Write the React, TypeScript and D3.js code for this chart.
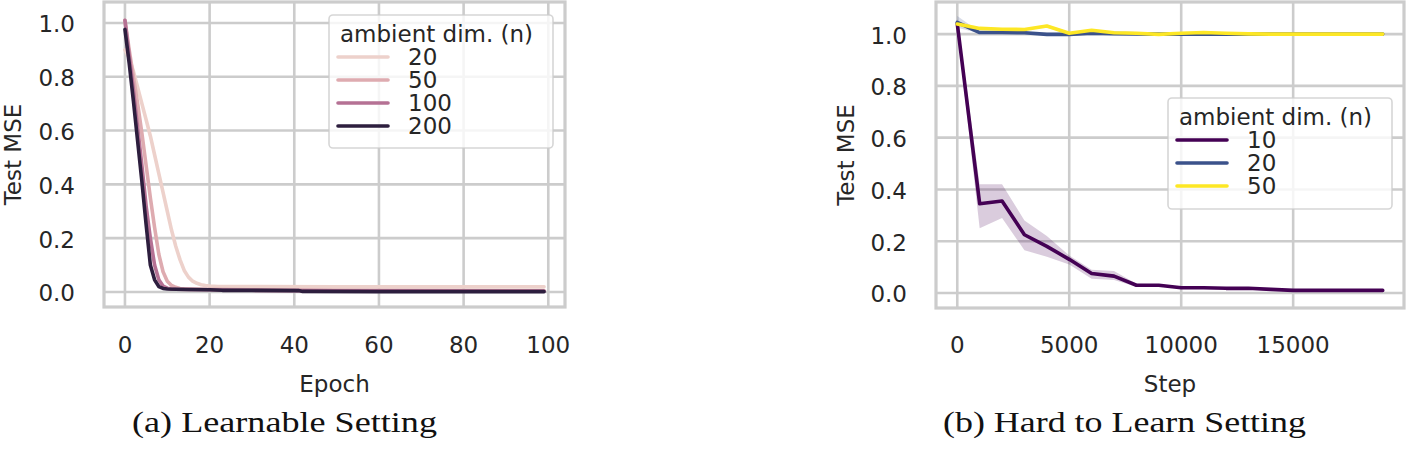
import * as d3 from "d3";

// ---- (a) learnable setting: test MSE per epoch ----
const epochsA20 = [0, 1, 2, 3, 4, 5, 6, 7, 8, 9, 10, 11, 12, 13, 14, 15, 16, 17, 18, 19, 20, 21, 22, 30, 50, 70, 99];
const mseA20 = [0.9, 0.87, 0.82, 0.76, 0.7, 0.64, 0.58, 0.51, 0.44, 0.37, 0.3, 0.23, 0.17, 0.12, 0.08, 0.055, 0.04, 0.032, 0.027, 0.024, 0.022, 0.021, 0.02, 0.02, 0.019, 0.019, 0.019];

const epochsA50 = [0, 1, 2, 3, 4, 5, 6, 7, 8, 9, 10, 11, 12, 13, 14, 16, 20, 30, 50, 99];
const mseA50 = [1.01, 0.9, 0.8, 0.7, 0.59, 0.47, 0.35, 0.24, 0.14, 0.075, 0.04, 0.024, 0.017, 0.013, 0.012, 0.011, 0.01, 0.008, 0.006, 0.004];

const epochsA100 = [0, 1, 2, 3, 4, 5, 6, 7, 8, 9, 10, 11, 12, 15, 20, 30, 50, 99];
const mseA100 = [1.01, 0.88, 0.75, 0.61, 0.47, 0.32, 0.2, 0.1, 0.045, 0.022, 0.014, 0.011, 0.01, 0.009, 0.008, 0.006, 0.004, 0.003];

const epochsA200 = [0, 1, 2, 3, 4, 5, 6, 7, 8, 9, 10, 12, 15, 20, 23, 30, 41, 42, 60, 99];
const mseA200 = [0.976, 0.85, 0.71, 0.56, 0.41, 0.25, 0.1, 0.045, 0.02, 0.013, 0.011, 0.01, 0.009, 0.008, 0.006, 0.006, 0.005, 0.002, 0.001, 0.001];

const dimsA = ["20", "50", "100", "200"];
const coloursA = ["#edd1cb", "#deabb0", "#b57194", "#2d1e3e"];

// ---- (b) hard to learn setting: test MSE per step ----
const stepsB = [0, 1000, 2000, 3000, 4000, 5000, 6000, 7000, 8000, 9000, 10000, 11000, 12000, 13000, 14000, 15000, 16000, 17000, 18000, 19000];
const mseB10 = [1.04, 0.345, 0.355, 0.225, 0.18, 0.13, 0.075, 0.065, 0.03, 0.03, 0.02, 0.02, 0.018, 0.018, 0.014, 0.01, 0.01, 0.01, 0.01, 0.01];
const lowB10 = [1.02, 0.25, 0.29, 0.165, 0.14, 0.11, 0.055, 0.05, 0.024, 0.026, 0.017, 0.017, 0.015, 0.015, 0.011, 0.008, 0.008, 0.008, 0.008, 0.008];
const highB10 = [1.06, 0.42, 0.42, 0.28, 0.22, 0.145, 0.09, 0.085, 0.036, 0.034, 0.023, 0.023, 0.021, 0.021, 0.017, 0.012, 0.012, 0.012, 0.012, 0.012];
const mseB20 = [1.045, 1.006, 1.006, 1.005, 0.999, 0.999, 1.003, 1.002, 1.001, 1.0, 1.0, 1.0, 1.0, 1.0, 1.0, 1.0, 1.0, 1.0, 1.0, 1.0];
const lowB20 = [1.025, 1.003, 1.003, 1.002, 0.997, 0.997, 1.001, 1.0, 0.999, 0.998, 0.998, 0.998, 0.998, 0.998, 0.998, 0.998, 0.998, 0.998, 0.998, 0.998];
const highB20 = [1.07, 1.009, 1.009, 1.008, 1.001, 1.001, 1.005, 1.004, 1.003, 1.002, 1.002, 1.002, 1.002, 1.002, 1.002, 1.002, 1.002, 1.002, 1.002, 1.002];
const mseB50 = [1.039, 1.022, 1.019, 1.018, 1.031, 1.003, 1.015, 1.005, 1.003, 0.999, 1.003, 1.006, 1.003, 1.001, 1.0, 1.0, 1.0, 1.0, 1.0, 1.0];
const lowB50 = [1.03, 1.018, 1.015, 1.014, 1.025, 1.0, 1.011, 1.002, 1.0, 0.997, 1.0, 1.003, 1.0, 0.999, 0.998, 0.998, 0.998, 0.998, 0.998, 0.998];
const highB50 = [1.05, 1.026, 1.023, 1.022, 1.037, 1.006, 1.019, 1.008, 1.006, 1.001, 1.006, 1.009, 1.006, 1.003, 1.002, 1.002, 1.002, 1.002, 1.002, 1.002];

const dimsB = ["10", "20", "50"];
const coloursB = ["#440154", "#3b528b", "#fde725"];

const ticksY = [0, 0.2, 0.4, 0.6, 0.8, 1.0];
const ticksXA = [0, 20, 40, 60, 80, 100];
const ticksXB = [0, 5000, 10000, 15000];

const FONT = "DejaVu Sans, sans-serif";
const INK = "#262626";
const GRID = "#cccccc";

type Series = { label: string; colour: string; x: number[]; y: number[]; lo?: number[]; hi?: number[] };

type PanelProps = {
  frame: { left: number; right: number; top: number; bottom: number };
  xDomain: [number, number];
  yDomain: [number, number];
  xTicks: number[];
  series: Series[];
  xLabel: string;
  yLabelX: number;
  caption: string;
  captionX: number;
  captionW: number;
  legend: { x: number; y: number; w: number; h: number };
};

function Panel({ frame, xDomain, yDomain, xTicks, series, xLabel, yLabelX, caption, captionX, captionW, legend }: PanelProps) {
  const x = d3.scaleLinear().domain(xDomain).range([frame.left, frame.right]);
  const y = d3.scaleLinear().domain(yDomain).range([frame.bottom, frame.top]);
  const midY = (frame.top + frame.bottom) / 2;
  const midX = (frame.left + frame.right) / 2;

  return (
    <g>
      {/* grid */}
      {ticksY.map((t) => (
        <line key={"gy" + t} x1={frame.left} x2={frame.right} y1={y(t)} y2={y(t)} stroke={GRID} strokeWidth={2.6} />
      ))}
      {xTicks.map((t) => (
        <line key={"gx" + t} x1={x(t)} x2={x(t)} y1={frame.top} y2={frame.bottom} stroke={GRID} strokeWidth={2.6} />
      ))}

      {/* bands then lines */}
      {series.map((s) => {
        if (!s.lo || !s.hi) return null;
        const area = d3
          .area<number>()
          .x((i) => x(s.x[i]))
          .y0((i) => y(s.lo![i]))
          .y1((i) => y(s.hi![i]));
        return <path key={"b" + s.label} d={area(d3.range(s.x.length)) ?? ""} fill={s.colour} fillOpacity={0.2} stroke="none" />;
      })}
      {series.map((s) => {
        const line = d3
          .line<number>()
          .x((i) => x(s.x[i]))
          .y((i) => y(s.y[i]));
        return (
          <path
            key={"l" + s.label}
            d={line(d3.range(s.x.length)) ?? ""}
            fill="none"
            stroke={s.colour}
            strokeWidth={3.6}
            strokeLinejoin="round"
            strokeLinecap="round"
          />
        );
      })}

      {/* frame */}
      <rect
        x={frame.left}
        y={frame.top}
        width={frame.right - frame.left}
        height={frame.bottom - frame.top}
        fill="none"
        stroke={GRID}
        strokeWidth={3.2}
      />

      {/* tick labels */}
      {ticksY.map((t) => (
        <text key={"ty" + t} x={frame.left - 29} y={y(t) + 9.5} textAnchor="end" fontFamily={FONT} fontSize={23} fill={INK}>
          {t.toFixed(1)}
        </text>
      ))}
      {xTicks.map((t) => (
        <text key={"tx" + t} x={x(t)} y={353} textAnchor="middle" fontFamily={FONT} fontSize={23} fill={INK}>
          {t}
        </text>
      ))}

      {/* axis labels */}
      <text x={midX} y={392} textAnchor="middle" fontFamily={FONT} fontSize={23} fill={INK}>
        {xLabel}
      </text>
      <text
        transform={`translate(${yLabelX},${midY}) rotate(-90)`}
        textAnchor="middle"
        fontFamily={FONT}
        fontSize={23}
        fill={INK}
      >
        Test MSE
      </text>

      {/* legend */}
      <rect
        x={legend.x}
        y={legend.y}
        width={legend.w}
        height={legend.h}
        rx={4}
        fill="#ffffff"
        fillOpacity={0.8}
        stroke={GRID}
        strokeOpacity={0.8}
        strokeWidth={1.6}
      />
      <text x={legend.x + 11} y={legend.y + 27} fontFamily={FONT} fontSize={23} fill={INK}>
        ambient dim. (n)
      </text>
      {series.map((s, i) => {
        const ly = legend.y + 42 + i * 23;
        return (
          <g key={"lg" + s.label}>
            <line x1={legend.x + 9} x2={legend.x + 59} y1={ly} y2={ly} stroke={s.colour} strokeWidth={3.6} strokeLinecap="round" />
            <text x={legend.x + 79} y={ly + 8} fontFamily={FONT} fontSize={23} fill={INK}>
              {s.label}
            </text>
          </g>
        );
      })}

      {/* caption */}
      <text
        x={captionX}
        y={432}
        textAnchor="middle"
        fontFamily="Liberation Serif, serif"
        fontSize={30}
        fill="#111111"
        textLength={captionW}
        lengthAdjust="spacingAndGlyphs"
      >
        {caption}
      </text>
    </g>
  );
}

export default function App() {
  const seriesA: Series[] = [
    { label: dimsA[0], colour: coloursA[0], x: epochsA20, y: mseA20 },
    { label: dimsA[1], colour: coloursA[1], x: epochsA50, y: mseA50 },
    { label: dimsA[2], colour: coloursA[2], x: epochsA100, y: mseA100 },
    { label: dimsA[3], colour: coloursA[3], x: epochsA200, y: mseA200 },
  ];
  const seriesB: Series[] = [
    { label: dimsB[0], colour: coloursB[0], x: stepsB, y: mseB10, lo: lowB10, hi: highB10 },
    { label: dimsB[1], colour: coloursB[1], x: stepsB, y: mseB20, lo: lowB20, hi: highB20 },
    { label: dimsB[2], colour: coloursB[2], x: stepsB, y: mseB50, lo: lowB50, hi: highB50 },
  ];

  return (
    <svg width={1408} height={451} style={{ position: "absolute", left: 0, top: 0, background: "#ffffff" }}>
      <Panel
        frame={{ left: 104, right: 565, top: 2, bottom: 307 }}
        xDomain={[-4.95, 103.95]}
        yDomain={[-0.056, 1.078]}
        xTicks={ticksXA}
        series={seriesA}
        xLabel="Epoch"
        yLabelX={21}
        caption="(a) Learnable Setting"
        captionX={284.5}
        captionW={305}
        legend={{ x: 329, y: 15, w: 224, h: 133 }}
      />
      <Panel
        frame={{ left: 936, right: 1404, top: 2, bottom: 308 }}
        xDomain={[-950, 19950]}
        yDomain={[-0.058, 1.124]}
        xTicks={ticksXB}
        series={seriesB}
        xLabel="Step"
        yLabelX={854}
        caption="(b) Hard to Learn Setting"
        captionX={1124.5}
        captionW={363}
        legend={{ x: 1168, y: 98, w: 224, h: 111 }}
      />
    </svg>
  );
}
